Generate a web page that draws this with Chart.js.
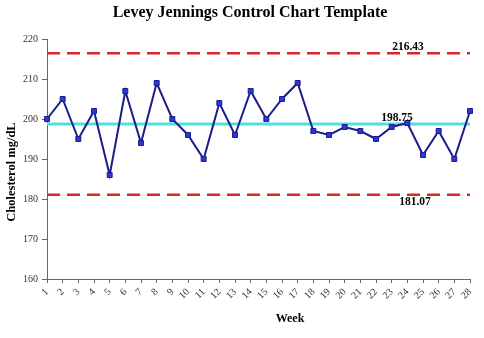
<!DOCTYPE html>
<html>
<head>
<meta charset="utf-8">
<script src="https://cdn.jsdelivr.net/npm/chart.js@4"></script>
<style>
  html, body { margin: 0; padding: 0; background: #ffffff; }
  #wrap { width: 484px; height: 338px; position: relative; }
</style>
</head>
<body>
<div id="wrap"><canvas id="c" width="484" height="338"></canvas></div>
<script>
// ---- data ----
const weeks = ["1","2","3","4","5","6","7","8","9","10","11","12","13","14","15","16","17","18","19","20","21","22","23","24","25","26","27","28"];
const cholesterol = [200,205,195,202,186,207,194,209,200,196,190,204,196,207,200,205,209,197,196,198,197,195,198,199,191,197,190,202];
const upperLimit = 216.43;
const meanValue = 198.75;
const lowerLimit = 181.07;
const yTicks = [160,170,180,190,200,210,220];
const titleText = "Levey Jennings Control Chart Template";
const yTitle = "Cholesterol mg/dL";
const xTitle = "Week";

const SERIF = '"Liberation Serif", "Times New Roman", serif';

const textPlugin = {
  id: 'textPlugin',
  afterDraw(chart) {
    const ctx = chart.ctx;
    const y = chart.scales.y;
    ctx.save();
    ctx.fillStyle = '#000';
    // title
    ctx.font = 'bold 16px ' + SERIF;
    ctx.textAlign = 'center';
    ctx.textBaseline = 'alphabetic';
    ctx.fillText(titleText, 250, 17);
    // x title
    ctx.font = 'bold 12px ' + SERIF;
    ctx.fillText(xTitle, 290, 322);
    // y title
    ctx.save();
    ctx.translate(15, 172);
    ctx.rotate(-Math.PI / 2);
    ctx.font = 'bold 12.5px ' + SERIF;
    ctx.fillText(yTitle, 0, 0);
    ctx.restore();
    // control line labels
    ctx.font = 'bold 11.5px ' + SERIF;
    ctx.textBaseline = 'alphabetic';
    ctx.fillText(upperLimit.toFixed(2), 408, y.getPixelForValue(upperLimit) - 3);
    ctx.fillText(meanValue.toFixed(2), 397, y.getPixelForValue(meanValue) - 3);
    ctx.textBaseline = 'top';
    ctx.fillText(lowerLimit.toFixed(2), 415, y.getPixelForValue(lowerLimit) + 2);
    ctx.restore();
  }
};

new Chart(document.getElementById('c'), {
  type: 'line',
  data: {
    labels: weeks,
    datasets: [
      {
        label: 'Cholesterol',
        data: cholesterol,
        borderColor: '#1c1c8a',
        borderWidth: 2,
        backgroundColor: '#2a3ad8',
        pointStyle: 'rect',
        pointRadius: 3.5,
        pointBorderColor: '#1c1c8a',
        pointBorderWidth: 1,
        tension: 0,
        order: 0
      },
      {
        label: 'Mean',
        data: weeks.map(() => meanValue),
        borderColor: '#4ae0e6',
        borderWidth: 3,
        pointRadius: 0,
        order: 1
      },
      {
        label: 'UCL',
        data: weeks.map(() => upperLimit),
        borderColor: '#d8262c',
        borderWidth: 2.5,
        borderDash: [13, 7],
        pointRadius: 0,
        order: 2
      },
      {
        label: 'LCL',
        data: weeks.map(() => lowerLimit),
        borderColor: '#d8262c',
        borderWidth: 2.5,
        borderDash: [13, 7],
        pointRadius: 0,
        order: 2
      }
    ]
  },
  options: {
    responsive: false,
    animation: false,
    layout: { padding: { top: 39, right: 14, left: 0, bottom: 0 } },
    plugins: {
      legend: { display: false },
      title: { display: false },
      tooltip: { enabled: false }
    },
    scales: {
      x: {
        offset: false,
        grid: { display: true, drawOnChartArea: false, drawTicks: true, tickLength: 4, color: '#666' },
        border: { color: '#666', width: 1 },
        ticks: {
          minRotation: 45, maxRotation: 45, autoSkip: false,
          font: { family: SERIF, size: 10 }, color: '#333', padding: 3
        },
        afterFit(scale) { scale.height = 59; }
      },
      y: {
        min: 160, max: 220,
        afterBuildTicks(scale) { scale.ticks = yTicks.map(v => ({ value: v })); },
        grid: { display: true, drawOnChartArea: false, drawTicks: true, tickLength: 5, color: '#666' },
        border: { color: '#666', width: 1 },
        ticks: { font: { family: SERIF, size: 10 }, color: '#333', padding: 4 },
        afterFit(scale) { scale.width = 47; }
      }
    }
  },
  plugins: [textPlugin]
});
</script>
</body>
</html>
